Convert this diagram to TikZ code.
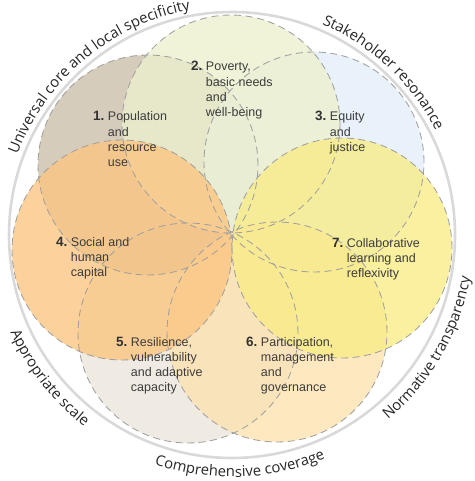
\documentclass[tikz,border=0pt]{standalone}
\usepackage{fontspec}
\setmainfont{Liberation Sans}
\newfontfamily\arcfont{Open Sans}
\usetikzlibrary{decorations.text}

\definecolor{popc}{RGB}{204,191,171}
\definecolor{povc}{RGB}{236,240,206}
\definecolor{equc}{RGB}{227,237,249}
\definecolor{socc}{RGB}{251,198,130}
\definecolor{resc}{RGB}{235,229,219}
\definecolor{parc}{RGB}{253,226,176}
\definecolor{colc}{RGB}{249,236,136}
\definecolor{rimgray}{RGB}{160,160,160}
\definecolor{txtgray}{RGB}{60,60,60}
\definecolor{numgray}{RGB}{50,50,50}

\begin{document}
\begin{tikzpicture}[x=1pt, y=1pt,
  petal/.style={fill=#1, fill opacity=0.8},
  rim/.style={draw=rimgray, line width=0.85pt, dash pattern=on 7pt off 4.5pt},
  lbl/.style={anchor=base west, inner sep=0pt, text=txtgray, font=\fontsize{12.5}{15.3}\selectfont},
  arclbl/.style={decorate, decoration={text along path, text align=center, text color=black!85,
    text={|\arcfont\fontsize{14.8}{16}\selectfont|#1}}}]
  \useasboundingbox (0,0) rectangle (474,-481);

  % outer ring
  \coordinate (O) at (232,-235);
  \draw[line width=2.6pt, draw=black!15] (O) circle (223);

  % petal centres
  \coordinate (c1) at (148,-165);
  \coordinate (c2) at (231,-124);
  \coordinate (c3) at (314,-162);
  \coordinate (c7) at (342,-248);
  \coordinate (c6) at (277,-332);
  \coordinate (c5) at (188,-333);
  \coordinate (c4) at (122,-250);

  \fill[petal=resc] (c5) circle (110);
  \fill[petal=popc] (c1) circle (110);
  \fill[petal=equc] (c3) circle (110);
  \fill[petal=povc] (c2) circle (109);
  \fill[petal=parc] (c6) circle (110);
  \fill[petal=colc] (c7) circle (110);
  \fill[petal=socc] (c4) circle (110);

  \foreach \c/\r in {c1/110,c2/109,c3/110,c4/110,c5/110,c6/110,c7/110}
    \draw[rim] (\c) circle (\r);

  % petal labels
  \node[lbl] (l1) at (93,-121) {\begin{tabular}[t]{@{}l@{\hspace{3.5pt}}l@{}}\textcolor{numgray}{\fontsize{13.5}{15}\selectfont\textbf{1.}} & Population\\ & and\\ & resource\\ & use\end{tabular}};
  \node[lbl] (l2) at (191,-71) {\begin{tabular}[t]{@{}l@{\hspace{3.5pt}}l@{}}\textcolor{numgray}{\fontsize{13.5}{15}\selectfont\textbf{2.}} & Poverty,\\ & basic needs\\ & and\\ & well-being\end{tabular}};
  \node[lbl] (l3) at (315,-121) {\begin{tabular}[t]{@{}l@{\hspace{3.5pt}}l@{}}\textcolor{numgray}{\fontsize{13.5}{15}\selectfont\textbf{3.}} & Equity\\ & and\\ & justice\end{tabular}};
  \node[lbl] (l4) at (56,-246) {\begin{tabular}[t]{@{}l@{\hspace{3.5pt}}l@{}}\textcolor{numgray}{\fontsize{13.5}{15}\selectfont\textbf{4.}} & Social and\\ & human\\ & capital\end{tabular}};
  \node[lbl] (l5) at (116,-346) {\begin{tabular}[t]{@{}l@{\hspace{3.5pt}}l@{}}\textcolor{numgray}{\fontsize{13.5}{15}\selectfont\textbf{5.}} & Resilience,\\ & vulnerability\\ & and adaptive\\ & capacity\end{tabular}};
  \node[lbl] (l6) at (246,-346) {\begin{tabular}[t]{@{}l@{\hspace{3.5pt}}l@{}}\textcolor{numgray}{\fontsize{13.5}{15}\selectfont\textbf{6.}} & Participation,\\ & management\\ & and\\ & governance\end{tabular}};
  \node[lbl] (l7) at (332,-247) {\begin{tabular}[t]{@{}l@{\hspace{3.5pt}}l@{}}\textcolor{numgray}{\fontsize{13.5}{15}\selectfont\textbf{7.}} & Collaborative\\ & learning and\\ & reflexivity\end{tabular}};

  % curved criteria round the ring
  \path[arclbl={Universal core and local specificity}] ([shift={(175:229)}]O) arc[start angle=175, end angle=85, radius=229];
  \path[arclbl={Stakeholder resonance}] ([shift={(85:229)}]O) arc[start angle=85, end angle=9, radius=229];
  \path[arclbl={Normative transparency}] ([shift={(-62:242)}]O) arc[start angle=-62, end angle=2, radius=242];
  \path[arclbl={Comprehensive coverage}] ([shift={(-120:242)}]O) arc[start angle=-120, end angle=-56, radius=242];
  \path[arclbl={Appropriate scale}] ([shift={(-172:242)}]O) arc[start angle=-172, end angle=-112, radius=242];
\end{tikzpicture}
\end{document}
